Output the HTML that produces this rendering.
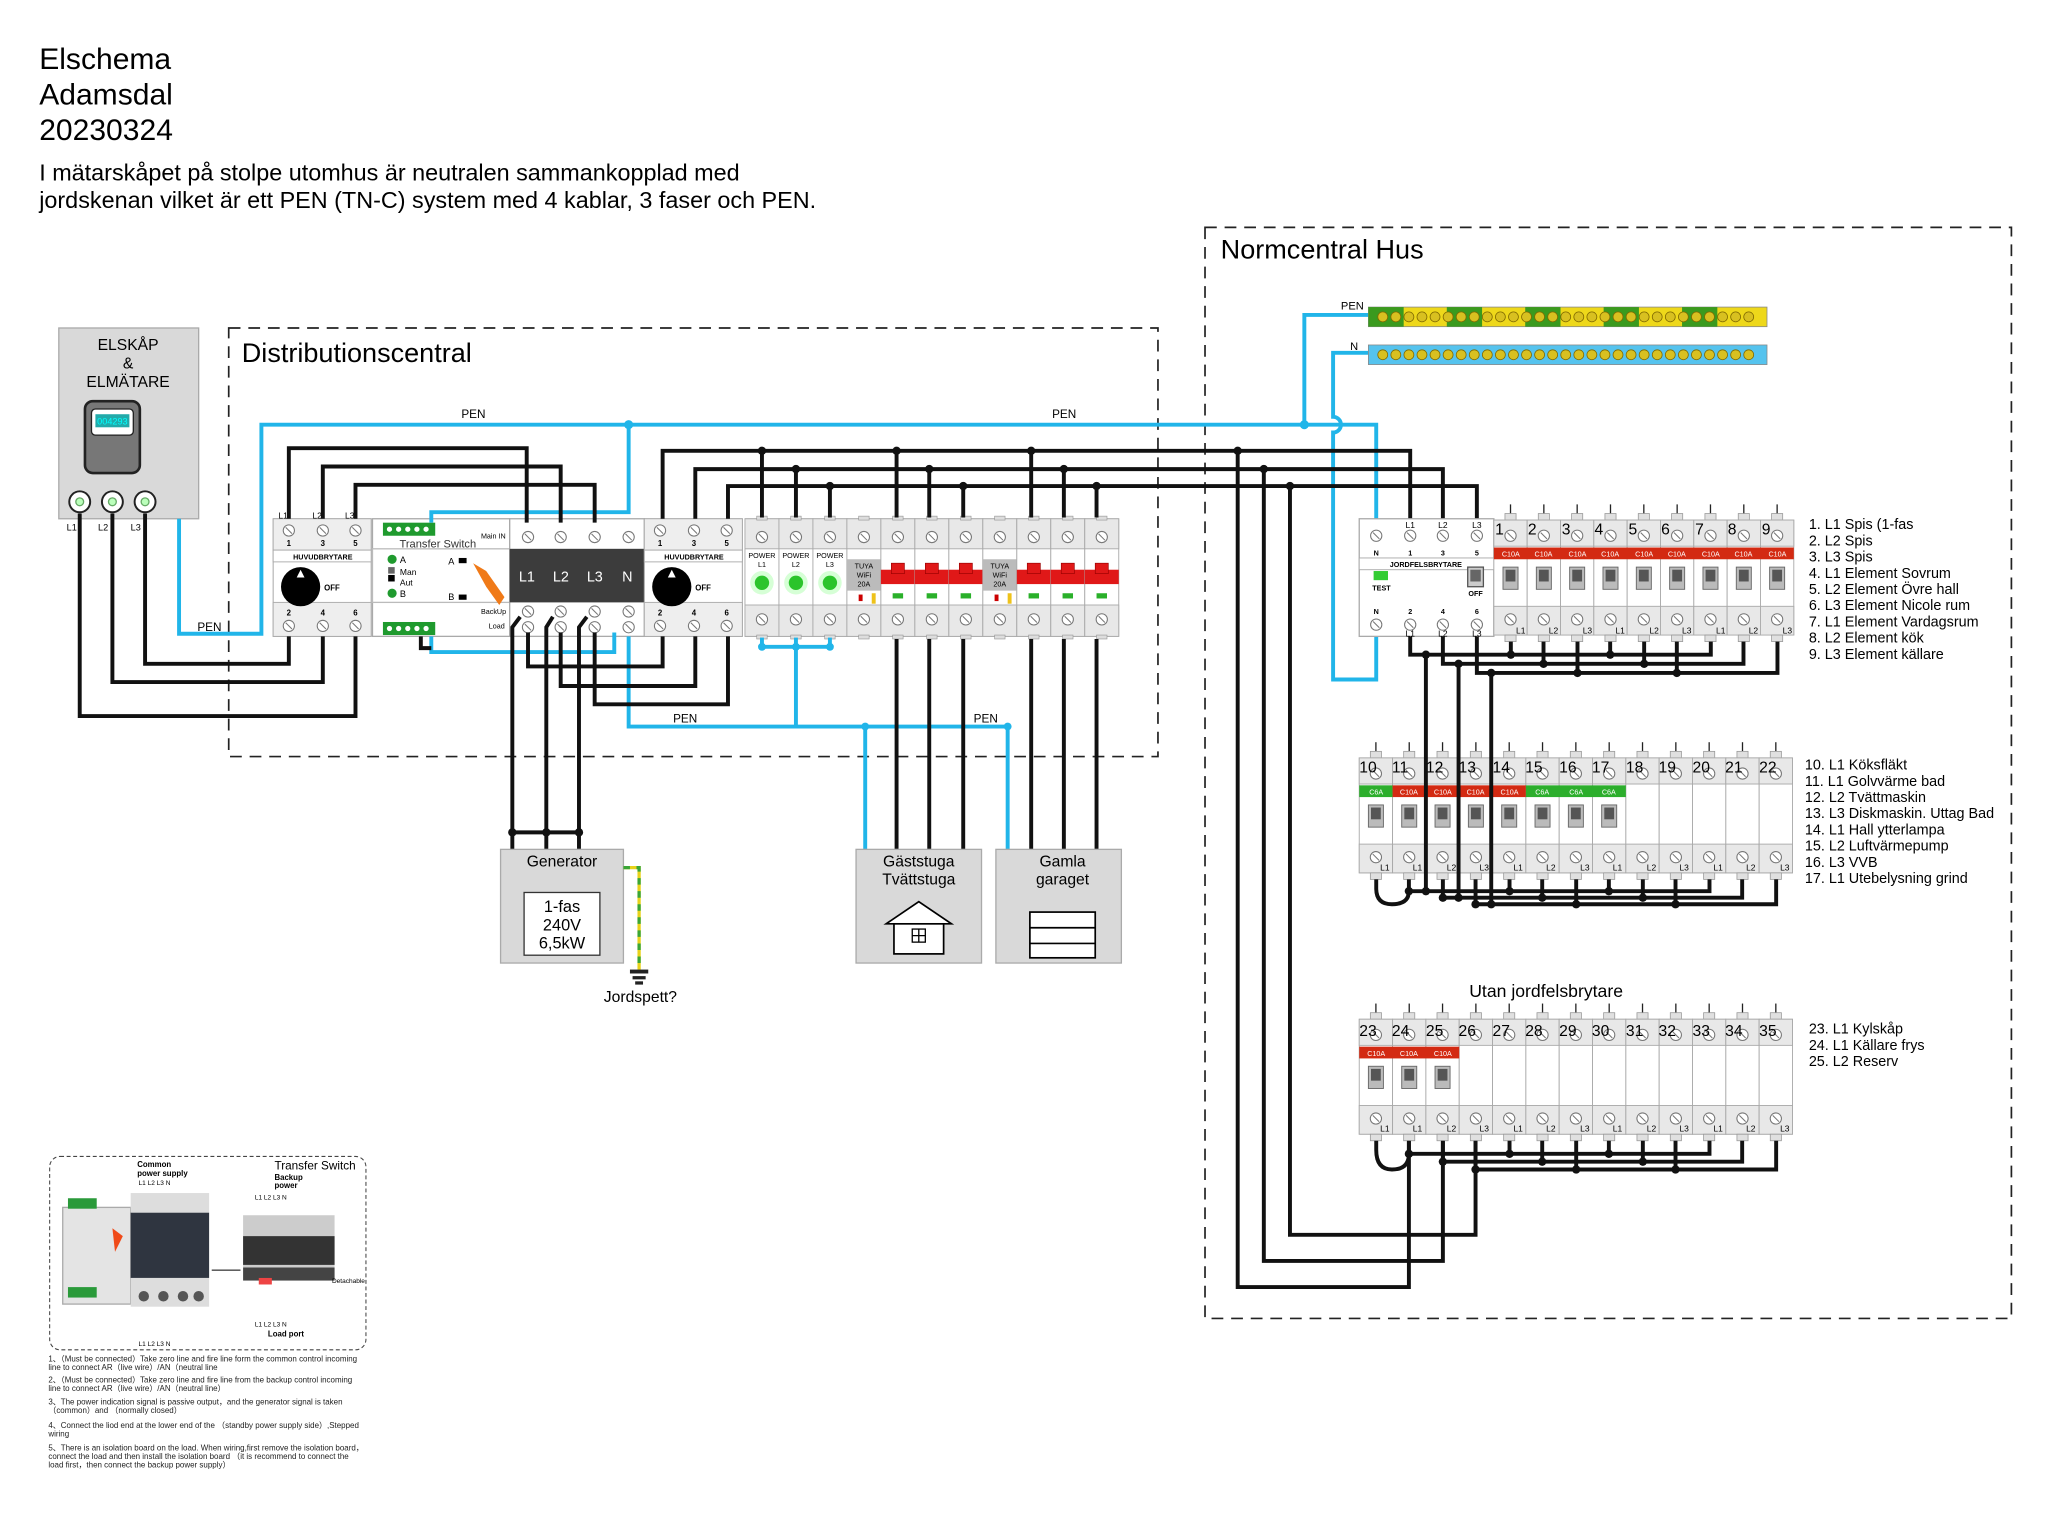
<!DOCTYPE html>
<html><head><meta charset="utf-8"><style>
html,body{margin:0;padding:0;background:#fff}
svg{display:block}
text{font-family:"Liberation Sans",Arial,sans-serif}
</style></head><body>
<svg width="2048" height="1521" viewBox="0 0 1567 1164" preserveAspectRatio="none" xmlns="http://www.w3.org/2000/svg">
<defs>
<g id="term"><circle r="4.3" fill="#fff" stroke="#777" stroke-width=".8"/><line x1="-2.4" y1="-2.4" x2="2.4" y2="2.4" stroke="#777" stroke-width=".8"/></g>
<g id="mod">
<line x1="12.75" y1="-12" x2="12.75" y2="-5" stroke="#222" stroke-width="1"/>
<rect x="8.5" y="-5" width="8.5" height="5" fill="#e0e0e0" stroke="#999" stroke-width=".6"/>
<rect x="0" y="0" width="25.5" height="88" fill="#fff" stroke="#aaa" stroke-width=".7"/>
<rect x="0" y="0" width="25.5" height="20" fill="#e8e8e8" stroke="#aaa" stroke-width=".7"/>
<rect x="0" y="66" width="25.5" height="22" fill="#e8e8e8" stroke="#aaa" stroke-width=".7"/>
<use href="#term" x="12.75" y="12"/>
<use href="#term" x="12.75" y="76"/>
<rect x="8.5" y="88" width="8.5" height="5" fill="#e0e0e0" stroke="#999" stroke-width=".6"/>
</g>
<g id="sw"><rect x="7" y="36" width="11.5" height="17" fill="#bbb" stroke="#666" stroke-width=".7"/><rect x="9" y="38" width="7.5" height="9" fill="#555"/></g>
<g id="dm">
<rect x="0" y="0" width="26" height="90" fill="#fff" stroke="#aaa" stroke-width=".7"/>
<rect x="0" y="0" width="26" height="23" fill="#e8e8e8" stroke="#aaa" stroke-width=".7"/>
<rect x="0" y="66" width="26" height="24" fill="#e8e8e8" stroke="#aaa" stroke-width=".7"/>
<use href="#term" x="13" y="14"/><use href="#term" x="13" y="77"/>
<rect x="9" y="-2" width="8" height="3" fill="#ddd" stroke="#999" stroke-width=".5"/>
<rect x="9" y="89" width="8" height="3" fill="#ddd" stroke="#999" stroke-width=".5"/>
</g>
<g id="brk"><use href="#dm"/><rect x="0" y="39" width="26" height="11" fill="#e01818"/><rect x="8" y="34" width="10" height="8" fill="#e01818" stroke="#900" stroke-width=".5"/><rect x="9" y="57" width="8" height="4" fill="#2ab02a"/></g>
<g id="hb">
<rect x="0" y="0" width="75" height="90" fill="#fff" stroke="#aaa" stroke-width=".8"/>
<rect x="0" y="0" width="75" height="24" fill="#eee" stroke="#aaa" stroke-width=".7"/>
<rect x="0" y="24" width="75" height="9" fill="#fff" stroke="#aaa" stroke-width=".7"/>
<rect x="0" y="64" width="75" height="26" fill="#eee" stroke="#aaa" stroke-width=".7"/>
<use href="#term" x="12" y="9"/><use href="#term" x="38" y="9"/><use href="#term" x="63" y="9"/>
<use href="#term" x="12" y="82"/><use href="#term" x="38" y="82"/><use href="#term" x="63" y="82"/>
<circle cx="21" cy="52" r="15" fill="#000"/><path d="M21 39 l-3 6 h6z" fill="#fff"/>
</g>
</defs>

<!-- Header -->
<text x="30" y="53" font-size="23">Elschema</text>
<text x="30" y="80" font-size="23">Adamsdal</text>
<text x="30" y="107" font-size="23">20230324</text>
<text x="30" y="138" font-size="17.9">I mätarskåpet på stolpe utomhus är neutralen sammankopplad med</text>
<text x="30" y="159" font-size="17.9">jordskenan vilket är ett PEN (TN-C) system med 4 kablar, 3 faser och PEN.</text>

<!-- dashed boxes -->
<rect x="175" y="251" width="711" height="328" fill="none" stroke="#222" stroke-width="1.3" stroke-dasharray="9,6"/>
<text x="185" y="277" font-size="20.7">Distributionscentral</text>
<rect x="922" y="174" width="617" height="835" fill="none" stroke="#222" stroke-width="1.3" stroke-dasharray="9,6"/>
<text x="934" y="198" font-size="20.7">Normcentral Hus</text>

<!-- Elskap -->
<rect x="45" y="251" width="107" height="146" fill="#d9d9d9" stroke="#aaa"/>
<text x="98" y="268" font-size="12" text-anchor="middle">ELSKÅP</text>
<text x="98" y="282" font-size="12" text-anchor="middle">&amp;</text>
<text x="98" y="296" font-size="12" text-anchor="middle">ELMÄTARE</text>
<rect x="65" y="307" width="42" height="55" rx="6" fill="#777" stroke="#222" stroke-width="2"/>
<rect x="70" y="313" width="32" height="20" rx="3" fill="#fff" stroke="#222"/>
<rect x="73" y="317" width="26" height="10" fill="#2aa"/>
<text x="86" y="325" font-size="7" text-anchor="middle" fill="#0ff">004293</text>
<g fill="#fff" stroke="#222" stroke-width="1.5"><circle cx="61" cy="384" r="8"/><circle cx="86" cy="384" r="8"/><circle cx="111" cy="384" r="8"/></g>
<g fill="#bfb" stroke="#6a6"><circle cx="61" cy="384" r="3"/><circle cx="86" cy="384" r="3"/><circle cx="111" cy="384" r="3"/></g>
<text x="51" y="406" font-size="7">L1</text><text x="75" y="406" font-size="7">L2</text><text x="100" y="406" font-size="7">L3</text>

<!-- DIN rail distribution -->
<use href="#hb" x="209" y="397"/>
<text x="247" y="428" font-size="5.5" font-weight="bold" text-anchor="middle">HUVUDBRYTARE</text>
<text x="248" y="452" font-size="6" font-weight="bold">OFF</text>
<g font-size="6" font-weight="bold" text-anchor="middle"><text x="221" y="418">1</text><text x="247" y="418">3</text><text x="272" y="418">5</text><text x="221" y="471">2</text><text x="247" y="471">4</text><text x="272" y="471">6</text></g>
<g font-size="6.5"><text x="213" y="397">L1</text><text x="239" y="397">L2</text><text x="264" y="397">L3</text></g>

<rect x="285" y="397" width="105" height="90" fill="#fff" stroke="#aaa"/>
<rect x="285" y="420" width="105" height="41" fill="#fff" stroke="#bbb"/>
<rect x="293" y="400" width="40" height="10" fill="#1f9a2e"/>
<g fill="#fff"><circle cx="298" cy="405" r="2"/><circle cx="305" cy="405" r="2"/><circle cx="312" cy="405" r="2"/><circle cx="319" cy="405" r="2"/><circle cx="326" cy="405" r="2"/></g>
<rect x="293" y="476" width="40" height="10" fill="#1f9a2e"/>
<g fill="#fff"><circle cx="298" cy="481" r="2"/><circle cx="305" cy="481" r="2"/><circle cx="312" cy="481" r="2"/><circle cx="319" cy="481" r="2"/><circle cx="326" cy="481" r="2"/></g>
<text x="335" y="419" font-size="8.5" text-anchor="middle" fill="#333">Transfer Switch</text>
<text x="368" y="412" font-size="5.5">Main IN</text>
<text x="368" y="470" font-size="5.5">BackUp</text><text x="374" y="481" font-size="5.5">Load</text>
<circle cx="300" cy="428" r="3.5" fill="#1f9a2e"/><text x="306" y="431" font-size="7">A</text>
<rect x="297" y="434" width="5" height="5" fill="#666"/><rect x="297" y="440" width="5" height="5" fill="#000"/>
<text x="306" y="440" font-size="6.5">Man</text><text x="306" y="448" font-size="6.5">Aut</text>
<circle cx="300" cy="454" r="3.5" fill="#1f9a2e"/><text x="306" y="457" font-size="7">B</text>
<text x="343" y="432" font-size="7">A</text><rect x="351" y="427" width="6" height="4" fill="#000"/>
<text x="343" y="459" font-size="7">B</text><rect x="351" y="455" width="6" height="4" fill="#000"/>
<path d="M362 431 l10 6 l14 20 l-4 6 l-10 -14 z" fill="#f07a18"/>

<rect x="390" y="397" width="103" height="90" fill="#fff" stroke="#aaa"/>
<rect x="390" y="420" width="103" height="41" fill="#3c3c3c"/>
<g font-size="11" fill="#fff"><text x="397" y="445">L1</text><text x="423" y="445">L2</text><text x="449" y="445">L3</text><text x="476" y="445">N</text></g>
<use href="#term" x="404" y="411"/><use href="#term" x="429" y="411"/><use href="#term" x="455" y="411"/><use href="#term" x="481" y="411"/>
<use href="#term" x="404" y="468"/><use href="#term" x="429" y="468"/><use href="#term" x="455" y="468"/><use href="#term" x="481" y="468"/>
<use href="#term" x="404" y="480"/><use href="#term" x="429" y="480"/><use href="#term" x="455" y="480"/><use href="#term" x="481" y="480"/>

<use href="#hb" x="493" y="397"/>
<text x="531" y="428" font-size="5.5" font-weight="bold" text-anchor="middle">HUVUDBRYTARE</text>
<text x="532" y="452" font-size="6" font-weight="bold">OFF</text>
<g font-size="6" font-weight="bold" text-anchor="middle"><text x="505" y="418">1</text><text x="531" y="418">3</text><text x="556" y="418">5</text><text x="505" y="471">2</text><text x="531" y="471">4</text><text x="556" y="471">6</text></g>

<use href="#dm" x="570" y="397"/><use href="#dm" x="596" y="397"/><use href="#dm" x="622" y="397"/>
<g font-size="5.5" text-anchor="middle"><text x="583" y="427">POWER</text><text x="609" y="427">POWER</text><text x="635" y="427">POWER</text><text x="583" y="434">L1</text><text x="609" y="434">L2</text><text x="635" y="434">L3</text></g>
<g fill="#bfb" opacity=".6"><circle cx="583" cy="446" r="9"/><circle cx="609" cy="446" r="9"/><circle cx="635" cy="446" r="9"/></g>
<g fill="#2bc42b"><circle cx="583" cy="446" r="5.5"/><circle cx="609" cy="446" r="5.5"/><circle cx="635" cy="446" r="5.5"/></g>

<use href="#dm" x="648" y="397"/><rect x="648" y="428" width="26" height="24" fill="#bbb"/>
<g font-size="5.5" text-anchor="middle"><text x="661" y="435">TUYA</text><text x="661" y="442">WiFi</text><text x="661" y="449">20A</text></g>
<rect x="657" y="455" width="3" height="5" fill="#c00"/><rect x="667" y="454" width="3" height="8" fill="#eec21a"/>
<use href="#brk" x="674" y="397"/><use href="#brk" x="700" y="397"/><use href="#brk" x="726" y="397"/>
<use href="#dm" x="752" y="397"/><rect x="752" y="428" width="26" height="24" fill="#bbb"/>
<g font-size="5.5" text-anchor="middle"><text x="765" y="435">TUYA</text><text x="765" y="442">WiFi</text><text x="765" y="449">20A</text></g>
<rect x="761" y="455" width="3" height="5" fill="#c00"/><rect x="771" y="454" width="3" height="8" fill="#eec21a"/>
<use href="#brk" x="778" y="397"/><use href="#brk" x="804" y="397"/><use href="#brk" x="830" y="397"/>

<!-- Blue wires -->
<g fill="none" stroke="#21b5e9" stroke-width="3">
<path d="M137 397 V485 H200 V325 H1053 V405"/>
<path d="M481 325 V392 H330 V400"/>
<path d="M330 487 V499 H470 V484"/>
<path d="M481 487 V556 H771 V650"/>
<path d="M583 488 V495 H635 V488 M609 488 V556 M662 556 V650"/>
<path d="M998 325 V241 H1047"/>
<path d="M1047 270 H1020 V319 A6 6 0 0 1 1020 331 V520 H1053 V487"/>
</g>
<g fill="#21b5e9"><circle cx="481" cy="325" r="3.5"/><circle cx="998" cy="325" r="3.5"/><circle cx="583" cy="495" r="3"/><circle cx="609" cy="495" r="3"/><circle cx="635" cy="495" r="3"/><circle cx="662" cy="556" r="3"/><circle cx="771" cy="556" r="3"/></g>
<g font-size="9"><text x="353" y="320">PEN</text><text x="805" y="320">PEN</text><text x="151" y="483">PEN</text><text x="515" y="553">PEN</text><text x="745" y="553">PEN</text></g>

<!-- Black wires -->
<g fill="none" stroke="#111" stroke-width="3">
<path d="M61 393 V548 H272 V487"/>
<path d="M86 393 V522 H247 V487"/>
<path d="M111 393 V508 H221 V487"/>
<path d="M221 397 V343 H403 V400"/>
<path d="M247 397 V357 H429 V400"/>
<path d="M272 397 V371 H455 V400"/>
<path d="M507 397 V345 H1079 V400"/>
<path d="M532 397 V359 H1104 V400"/>
<path d="M557 397 V372 H1130 V400"/>
<path d="M583 345 V396 M686 345 V396 M789 345 V396 M609 359 V396 M711 359 V396 M814 359 V396 M635 372 V396 M737 372 V396 M839 372 V396"/>
<path d="M947 345 V985 H1078 V872"/>
<path d="M967 359 V965 H1104 V872"/>
<path d="M987 372 V945 H1129 V872"/>
<path d="M507 487 V510 H404 V484"/>
<path d="M532 487 V525 H429 V484"/>
<path d="M557 487 V539 H455 V484"/>
<path d="M398 472 L392 480 V650 M423 472 L418 480 V650 M449 472 L443 480 V650 M392 637 H443"/>
<path d="M322 487 V496 H330"/>
<path d="M686 489 V650 M711 489 V650 M737 489 V650 M789 489 V650 M814 489 V650 M839 489 V650"/>
</g>
<g fill="#111">
<circle cx="583" cy="345" r="3.2"/><circle cx="686" cy="345" r="3.2"/><circle cx="789" cy="345" r="3.2"/>
<circle cx="609" cy="359" r="3.2"/><circle cx="711" cy="359" r="3.2"/><circle cx="814" cy="359" r="3.2"/>
<circle cx="635" cy="372" r="3.2"/><circle cx="737" cy="372" r="3.2"/><circle cx="839" cy="372" r="3.2"/>
<circle cx="392" cy="637" r="3.2"/><circle cx="418" cy="637" r="3.2"/><circle cx="443" cy="637" r="3.2"/>
</g>

<!-- Generator & buildings -->
<rect x="383" y="650" width="94" height="87" fill="#d9d9d9" stroke="#aaa"/>
<text x="430" y="663" font-size="12" text-anchor="middle">Generator</text>
<rect x="401" y="683" width="58" height="48" fill="#fff" stroke="#333"/>
<g font-size="12.5" text-anchor="middle"><text x="430" y="698">1-fas</text><text x="430" y="712">240V</text><text x="430" y="726">6,5kW</text></g>
<path d="M477 664 H489 V742" fill="none" stroke="#e8d21a" stroke-width="2.5"/>
<path d="M477 664 H489 V742" fill="none" stroke="#3aa636" stroke-width="2.5" stroke-dasharray="5,5"/>
<rect x="482" y="742" width="14" height="3" fill="#222"/><rect x="484" y="747" width="10" height="2.5" fill="#222"/><rect x="486" y="751" width="6" height="2.5" fill="#222"/>
<text x="490" y="767" font-size="12" text-anchor="middle">Jordspett?</text>

<rect x="655" y="650" width="96" height="87" fill="#d9d9d9" stroke="#aaa"/>
<text x="703" y="663" font-size="12" text-anchor="middle">Gäststuga</text>
<text x="703" y="677" font-size="12" text-anchor="middle">Tvättstuga</text>
<path d="M678 707 L703 690 L728 707 Z" fill="#fff" stroke="#000" stroke-width="1.3"/>
<rect x="684" y="707" width="38" height="23" fill="#fff" stroke="#000" stroke-width="1.3"/>
<rect x="698" y="711" width="10" height="10" fill="none" stroke="#000"/><path d="M703 711 V721 M698 716 H708" stroke="#000"/>

<rect x="762" y="650" width="96" height="87" fill="#d9d9d9" stroke="#aaa"/>
<text x="813" y="663" font-size="12" text-anchor="middle">Gamla</text>
<text x="813" y="677" font-size="12" text-anchor="middle">garaget</text>
<rect x="788" y="698" width="50" height="35" fill="#fff" stroke="#000" stroke-width="1.3"/>
<path d="M788 710 H838 M788 722 H838" stroke="#000" stroke-width="1.3"/>

<!-- Bus bars -->
<text x="1026" y="237" font-size="8.5">PEN</text>
<text x="1033" y="268" font-size="8.5">N</text>
<rect x="1047" y="235" width="305" height="15" fill="#eed81a" stroke="#888" stroke-width=".6"/>
<g fill="#3a9a1e"><rect x="1047" y="235" width="27" height="15"/><rect x="1107" y="235" width="27" height="15"/><rect x="1167" y="235" width="27" height="15"/><rect x="1227" y="235" width="27" height="15"/><rect x="1287" y="235" width="27" height="15"/></g>
<rect x="1047" y="264" width="305" height="15" fill="#55c3ee" stroke="#888" stroke-width=".6"/>
<g fill="#d8c020" stroke="#806a00" stroke-width=".6" id="screws">
<circle cx="1058" cy="242.5" r="3.8"/><circle cx="1068" cy="242.5" r="3.8"/><circle cx="1078" cy="242.5" r="3.8"/><circle cx="1088" cy="242.5" r="3.8"/><circle cx="1098" cy="242.5" r="3.8"/><circle cx="1108" cy="242.5" r="3.8"/><circle cx="1118" cy="242.5" r="3.8"/><circle cx="1128" cy="242.5" r="3.8"/><circle cx="1138" cy="242.5" r="3.8"/><circle cx="1148" cy="242.5" r="3.8"/><circle cx="1158" cy="242.5" r="3.8"/><circle cx="1168" cy="242.5" r="3.8"/><circle cx="1178" cy="242.5" r="3.8"/><circle cx="1188" cy="242.5" r="3.8"/><circle cx="1198" cy="242.5" r="3.8"/><circle cx="1208" cy="242.5" r="3.8"/><circle cx="1218" cy="242.5" r="3.8"/><circle cx="1228" cy="242.5" r="3.8"/><circle cx="1238" cy="242.5" r="3.8"/><circle cx="1248" cy="242.5" r="3.8"/><circle cx="1258" cy="242.5" r="3.8"/><circle cx="1268" cy="242.5" r="3.8"/><circle cx="1278" cy="242.5" r="3.8"/><circle cx="1288" cy="242.5" r="3.8"/><circle cx="1298" cy="242.5" r="3.8"/><circle cx="1308" cy="242.5" r="3.8"/><circle cx="1318" cy="242.5" r="3.8"/><circle cx="1328" cy="242.5" r="3.8"/><circle cx="1338" cy="242.5" r="3.8"/>
</g>
<use href="#screws" y="29"/>

<!-- RCD -->
<rect x="1040" y="397" width="103" height="90" fill="#fff" stroke="#aaa"/>
<rect x="1040" y="427" width="103" height="9" fill="#fff" stroke="#aaa" stroke-width=".7"/>
<text x="1091" y="434" font-size="5.5" font-weight="bold" text-anchor="middle">JORDFELSBRYTARE</text>
<use href="#term" x="1053" y="410"/><use href="#term" x="1079" y="410"/><use href="#term" x="1104" y="410"/><use href="#term" x="1130" y="410"/>
<use href="#term" x="1053" y="478"/><use href="#term" x="1079" y="478"/><use href="#term" x="1104" y="478"/><use href="#term" x="1130" y="478"/>
<g font-size="5.5" font-weight="bold" text-anchor="middle"><text x="1053" y="425">N</text><text x="1079" y="425">1</text><text x="1104" y="425">3</text><text x="1130" y="425">5</text><text x="1053" y="470">N</text><text x="1079" y="470">2</text><text x="1104" y="470">4</text><text x="1130" y="470">6</text></g>
<g font-size="6.5" text-anchor="middle"><text x="1079" y="404">L1</text><text x="1104" y="404">L2</text><text x="1130" y="404">L3</text><text x="1079" y="487">L1</text><text x="1104" y="487">L2</text><text x="1130" y="487">L3</text></g>
<rect x="1051" y="437" width="11" height="7" fill="#3c3"/><text x="1057" y="452" font-size="5.5" font-weight="bold" text-anchor="middle">TEST</text>
<rect x="1123" y="434" width="12" height="15" fill="#ccc" stroke="#555"/><rect x="1125" y="436" width="8" height="9" fill="#666"/>
<text x="1129" y="456" font-size="5.5" font-weight="bold" text-anchor="middle">OFF</text>

<!-- Row 1 breakers -->
<use href="#mod" x="1143" y="398"/><use href="#mod" x="1168.5" y="398"/><use href="#mod" x="1194" y="398"/><use href="#mod" x="1219.5" y="398"/><use href="#mod" x="1245" y="398"/><use href="#mod" x="1270.5" y="398"/><use href="#mod" x="1296" y="398"/><use href="#mod" x="1321.5" y="398"/><use href="#mod" x="1347" y="398"/>
<rect x="1143" y="419" width="229.5" height="9" fill="#d32a12"/>
<g font-size="5.5" fill="#fff" text-anchor="middle"><text x="1156" y="426">C10A</text><text x="1181" y="426">C10A</text><text x="1207" y="426">C10A</text><text x="1232" y="426">C10A</text><text x="1258" y="426">C10A</text><text x="1283" y="426">C10A</text><text x="1309" y="426">C10A</text><text x="1334" y="426">C10A</text><text x="1360" y="426">C10A</text></g>
<use href="#sw" x="1143" y="398"/><use href="#sw" x="1168.5" y="398"/><use href="#sw" x="1194" y="398"/><use href="#sw" x="1219.5" y="398"/><use href="#sw" x="1245" y="398"/><use href="#sw" x="1270.5" y="398"/><use href="#sw" x="1296" y="398"/><use href="#sw" x="1321.5" y="398"/><use href="#sw" x="1347" y="398"/>
<g font-size="12"><text x="1144" y="409">1</text><text x="1169" y="409">2</text><text x="1195" y="409">3</text><text x="1220" y="409">4</text><text x="1246" y="409">5</text><text x="1271" y="409">6</text><text x="1297" y="409">7</text><text x="1322" y="409">8</text><text x="1348" y="409">9</text></g>
<g font-size="6.5"><text x="1160" y="485">L1</text><text x="1185" y="485">L2</text><text x="1211" y="485">L3</text><text x="1236" y="485">L1</text><text x="1262" y="485">L2</text><text x="1287" y="485">L3</text><text x="1313" y="485">L1</text><text x="1338" y="485">L2</text><text x="1364" y="485">L3</text></g>

<!-- Row 2 -->
<use href="#mod" x="1040" y="580"/><use href="#mod" x="1065.5" y="580"/><use href="#mod" x="1091" y="580"/><use href="#mod" x="1116.5" y="580"/><use href="#mod" x="1142" y="580"/><use href="#mod" x="1167.5" y="580"/><use href="#mod" x="1193" y="580"/><use href="#mod" x="1218.5" y="580"/><use href="#mod" x="1244" y="580"/><use href="#mod" x="1269.5" y="580"/><use href="#mod" x="1295" y="580"/><use href="#mod" x="1320.5" y="580"/><use href="#mod" x="1346" y="580"/>
<rect x="1040" y="601" width="25.5" height="9" fill="#2cae2c"/><rect x="1065.5" y="601" width="102" height="9" fill="#d32a12"/><rect x="1167.5" y="601" width="76.5" height="9" fill="#2cae2c"/>
<g font-size="5.5" fill="#fff" text-anchor="middle"><text x="1053" y="608">C6A</text><text x="1078" y="608">C10A</text><text x="1104" y="608">C10A</text><text x="1129" y="608">C10A</text><text x="1155" y="608">C10A</text><text x="1180" y="608">C6A</text><text x="1206" y="608">C6A</text><text x="1231" y="608">C6A</text></g>
<use href="#sw" x="1040" y="580"/><use href="#sw" x="1065.5" y="580"/><use href="#sw" x="1091" y="580"/><use href="#sw" x="1116.5" y="580"/><use href="#sw" x="1142" y="580"/><use href="#sw" x="1167.5" y="580"/><use href="#sw" x="1193" y="580"/><use href="#sw" x="1218.5" y="580"/>
<g font-size="12"><text x="1040" y="591">10</text><text x="1065" y="591">11</text><text x="1091" y="591">12</text><text x="1116" y="591">13</text><text x="1142" y="591">14</text><text x="1167" y="591">15</text><text x="1193" y="591">16</text><text x="1218" y="591">17</text><text x="1244" y="591">18</text><text x="1269" y="591">19</text><text x="1295" y="591">20</text><text x="1320" y="591">21</text><text x="1346" y="591">22</text></g>
<g font-size="6.5"><text x="1056" y="666">L1</text><text x="1081" y="666">L1</text><text x="1107" y="666">L2</text><text x="1132" y="666">L3</text><text x="1158" y="666">L1</text><text x="1183" y="666">L2</text><text x="1209" y="666">L3</text><text x="1234" y="666">L1</text><text x="1260" y="666">L2</text><text x="1285" y="666">L3</text><text x="1311" y="666">L1</text><text x="1336" y="666">L2</text><text x="1362" y="666">L3</text></g>

<!-- Row 3 -->
<text x="1183" y="763" font-size="13.5" text-anchor="middle">Utan jordfelsbrytare</text>
<use href="#mod" x="1040" y="780"/><use href="#mod" x="1065.5" y="780"/><use href="#mod" x="1091" y="780"/><use href="#mod" x="1116.5" y="780"/><use href="#mod" x="1142" y="780"/><use href="#mod" x="1167.5" y="780"/><use href="#mod" x="1193" y="780"/><use href="#mod" x="1218.5" y="780"/><use href="#mod" x="1244" y="780"/><use href="#mod" x="1269.5" y="780"/><use href="#mod" x="1295" y="780"/><use href="#mod" x="1320.5" y="780"/><use href="#mod" x="1346" y="780"/>
<rect x="1040" y="801" width="76.5" height="9" fill="#d32a12"/>
<g font-size="5.5" fill="#fff" text-anchor="middle"><text x="1053" y="808">C10A</text><text x="1078" y="808">C10A</text><text x="1104" y="808">C10A</text></g>
<use href="#sw" x="1040" y="780"/><use href="#sw" x="1065.5" y="780"/><use href="#sw" x="1091" y="780"/>
<g font-size="12"><text x="1040" y="793">23</text><text x="1065" y="793">24</text><text x="1091" y="793">25</text><text x="1116" y="793">26</text><text x="1142" y="793">27</text><text x="1167" y="793">28</text><text x="1193" y="793">29</text><text x="1218" y="793">30</text><text x="1244" y="793">31</text><text x="1269" y="793">32</text><text x="1295" y="793">33</text><text x="1320" y="793">34</text><text x="1346" y="793">35</text></g>
<g font-size="6.5"><text x="1056" y="866">L1</text><text x="1081" y="866">L1</text><text x="1107" y="866">L2</text><text x="1132" y="866">L3</text><text x="1158" y="866">L1</text><text x="1183" y="866">L2</text><text x="1209" y="866">L3</text><text x="1234" y="866">L1</text><text x="1260" y="866">L2</text><text x="1285" y="866">L3</text><text x="1311" y="866">L1</text><text x="1336" y="866">L2</text><text x="1362" y="866">L3</text></g>

<!-- Normcentral wiring -->
<g fill="none" stroke="#111" stroke-width="3">
<path d="M1079 487 V501 H1309 V491 M1156 491 V501 M1232 491 V501"/>
<path d="M1104 487 V508 H1334 V491 M1181 491 V508 M1258 491 V508"/>
<path d="M1130 487 V515 H1360 V491 M1207 491 V515 M1283 491 V515"/>
<path d="M1091 501 V682 M1116 508 V687 M1141 515 V692"/>
<path d="M1078 673 V682 H1308 V673 M1155 673 V682 M1231 673 V682"/>
<path d="M1104 673 V687 H1333 V673 M1180 673 V687 M1257 673 V687"/>
<path d="M1129 673 V692 H1359 V673 M1206 673 V692 M1282 673 V692"/>
<path d="M1053 673 V680 Q1053 692 1065 692 Q1078 692 1078 682"/>
<path d="M1078 873 V883 H1308 V873 M1155 873 V883 M1231 873 V883"/>
<path d="M1104 873 V889 H1333 V873 M1180 873 V889 M1257 873 V889"/>
<path d="M1129 873 V895 H1359 V873 M1206 873 V895 M1282 873 V895"/>
<path d="M1053 873 V880 Q1053 895 1065 895 Q1078 895 1078 883"/>
</g>
<g fill="#111">
<circle cx="1156" cy="501" r="3.2"/><circle cx="1232" cy="501" r="3.2"/><circle cx="1181" cy="508" r="3.2"/><circle cx="1258" cy="508" r="3.2"/><circle cx="1207" cy="515" r="3.2"/><circle cx="1283" cy="515" r="3.2"/>
<circle cx="1091" cy="501" r="3.2"/><circle cx="1116" cy="508" r="3.2"/><circle cx="1141" cy="515" r="3.2"/>
<circle cx="1091" cy="682" r="3.2"/><circle cx="1116" cy="687" r="3.2"/><circle cx="1141" cy="692" r="3.2"/>
<circle cx="1078" cy="682" r="3.2"/><circle cx="1155" cy="682" r="3.2"/><circle cx="1231" cy="682" r="3.2"/><circle cx="1180" cy="687" r="3.2"/><circle cx="1257" cy="687" r="3.2"/><circle cx="1206" cy="692" r="3.2"/><circle cx="1282" cy="692" r="3.2"/><circle cx="1104" cy="687" r="3.2"/><circle cx="1129" cy="692" r="3.2"/>
<circle cx="1078" cy="883" r="3.2"/><circle cx="1155" cy="883" r="3.2"/><circle cx="1231" cy="883" r="3.2"/><circle cx="1104" cy="889" r="3.2"/><circle cx="1180" cy="889" r="3.2"/><circle cx="1257" cy="889" r="3.2"/><circle cx="1129" cy="895" r="3.2"/><circle cx="1206" cy="895" r="3.2"/><circle cx="1282" cy="895" r="3.2"/>
<circle cx="947" cy="345" r="3.2"/><circle cx="967" cy="359" r="3.2"/><circle cx="987" cy="372" r="3.2"/>
</g>

<!-- Legends -->
<g font-size="11">
<text x="1384" y="405">1. L1 Spis (1-fas</text><text x="1384" y="417.4">2. L2 Spis</text><text x="1384" y="429.8">3. L3 Spis</text><text x="1384" y="442.2">4. L1 Element Sovrum</text><text x="1384" y="454.6">5. L2 Element Övre hall</text><text x="1384" y="467">6. L3 Element Nicole rum</text><text x="1384" y="479.4">7. L1 Element Vardagsrum</text><text x="1384" y="491.8">8. L2 Element kök</text><text x="1384" y="504.2">9. L3 Element källare</text>
<text x="1381" y="589">10. L1 Köksfläkt</text><text x="1381" y="601.4">11. L1 Golvvärme bad</text><text x="1381" y="613.8">12. L2 Tvättmaskin</text><text x="1381" y="626.2">13. L3 Diskmaskin. Uttag Bad</text><text x="1381" y="638.6">14. L1 Hall ytterlampa</text><text x="1381" y="651">15. L2 Luftvärmepump</text><text x="1381" y="663.4">16. L3 VVB</text><text x="1381" y="675.8">17. L1 Utebelysning grind</text>
<text x="1384" y="791">23. L1 Kylskåp</text><text x="1384" y="803.4">24. L1 Källare frys</text><text x="1384" y="815.8">25. L2 Reserv</text>
</g>

<!-- Bottom-left reference image -->
<rect x="38" y="885" width="242" height="148" rx="8" fill="#fff" stroke="#444" stroke-width=".8" stroke-dasharray="3,2"/>
<rect x="48" y="924" width="52" height="74" fill="#e4e4e4" stroke="#aaa"/>
<rect x="52" y="917" width="22" height="8" fill="#2a9a3a"/><rect x="52" y="985" width="22" height="8" fill="#2a9a3a"/>
<path d="M86 940 l8 6 l-6 12 z" fill="#f04a18"/>
<rect x="100" y="928" width="60" height="50" fill="#2f3540"/>
<rect x="100" y="913" width="60" height="15" fill="#ddd"/><rect x="100" y="978" width="60" height="22" fill="#ddd"/>
<g fill="#555"><circle cx="110" cy="992" r="4"/><circle cx="125" cy="992" r="4"/><circle cx="140" cy="992" r="4"/><circle cx="152" cy="992" r="4"/></g>
<rect x="186" y="930" width="70" height="40" fill="#ccc"/><rect x="186" y="946" width="70" height="22" fill="#333"/><rect x="186" y="970" width="70" height="10" fill="#444"/>
<rect x="198" y="978" width="10" height="5" fill="#e44"/>
<path d="M162 972 H184" stroke="#000" stroke-width=".7"/>
<g font-size="6" font-weight="bold"><text x="105" y="893">Common</text><text x="105" y="900">power supply</text><text x="210" y="903">Backup</text><text x="210" y="909">power</text><text x="205" y="1023">Load  port</text></g>
<text x="210" y="895" font-size="9">Transfer Switch</text>
<g font-size="5"><text x="106" y="907">L1   L2   L3   N</text><text x="106" y="1030">L1   L2   L3   N</text><text x="195" y="918">L1  L2  L3  N</text><text x="195" y="1015">L1  L2  L3  N</text><text x="254" y="982">Detachable</text></g>
<g font-size="6.1" fill="#222">
<text x="37" y="1042">1、（Must be connected）Take zero line and fire line form the common control incoming</text>
<text x="37" y="1048.5">line to connect AR（live wire）/AN（neutral line</text>
<text x="37" y="1058">2、（Must be connected）Take zero line and fire line from the backup control incoming</text>
<text x="37" y="1064.5">line to connect AR（live wire）/AN（neutral line）</text>
<text x="37" y="1075">3、The power indication signal is passive output，and the generator signal is taken</text>
<text x="37" y="1081.5">（common）and （normally closed）</text>
<text x="37" y="1093">4、Connect the liod end at the lower end of the （standby power supply side）,Stepped</text>
<text x="37" y="1099.5">wiring</text>
<text x="37" y="1110">5、There is an isolation board on the load. When wiring,first  remove the isolation board，</text>
<text x="37" y="1116.5">connect the load and then install the isolation board （it is recommend to connect the</text>
<text x="37" y="1123">load first，then connect the backup power supply）</text>
</g>
</svg>
</body></html>
